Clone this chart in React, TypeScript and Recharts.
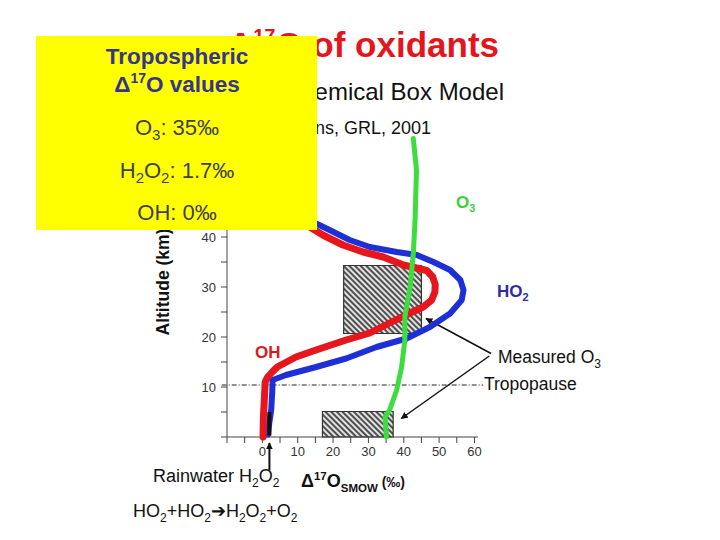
import { ScatterChart, Scatter, XAxis, YAxis, ReferenceArea, ReferenceLine } from 'recharts'

// altitude (km) and Δ17O (‰)
const ohAltitude = [0, 4, 8, 11, 12, 13, 14, 16, 17.4, 19.4, 20.8, 22.8, 24.8, 26, 27.4, 29, 30.5, 32, 33.3, 33.9, 34.4, 36, 37, 38.4, 40.4, 42, 44]
const ohDelta = [0.2, 0.3, 0.6, 0.8, 1.5, 2.8, 4.2, 9.5, 15.2, 23.7, 30.4, 36, 41.8, 45.5, 47.9, 48.8, 48.9, 48.2, 46.5, 43, 39.9, 34.2, 28.5, 22.8, 17.1, 13.4, 10]

const ho2Altitude = [0.5, 2, 5.4, 9, 11.4, 12.4, 14, 15.7, 18, 19.7, 22, 24.7, 27.4, 29.4, 31.4, 33.4, 35, 36.4, 37, 38, 39.4, 41.4, 42.7, 44]
const ho2Delta = [1.6, 1.8, 2.5, 2.8, 2.9, 6.7, 15.2, 23.7, 32.3, 40.8, 47.4, 53.1, 56.4, 56.9, 56, 53.1, 48.4, 43.7, 38, 30.4, 24.7, 19, 15.2, 11]

const o3Altitude = [0, 4, 5.4, 9.4, 14, 19.4, 24, 30, 36.7, 43.4, 53.4, 59.7]
const o3Delta = [35.1, 34.7, 36, 38, 39.4, 40.3, 40.3, 41.8, 42.7, 43.2, 43.6, 42.7]

const rainAltitude = [0.3, 5]
const rainDelta = [2, 2]

// measured ozone ranges (hatched boxes)
const measuredO3 = [
  { v1: 23, v2: 45, a1: 20.7, a2: 34.3 },
  { v1: 17, v2: 37, a1: 0, a2: 5.1 },
]

const tropopauseAlt = 10.4
const xTicks = [-10, -5, 0, 5, 10, 15, 20, 25, 30, 35, 40, 45, 50, 55, 60]
const yTicks = [0, 5, 10, 15, 20, 25, 30, 35, 40, 45, 50, 55, 60]

// annotation arrows, in data units
const measuredArrows = [
  { from: { v: 64.7, alt: 16.7 }, to: { v: 46.3, alt: 23.7 } },
  { from: { v: 64.2, alt: 16.2 }, to: { v: 39.3, alt: 3.7 } },
]
const rainArrow = { from: { v: 2, alt: -6.6 }, to: { v: 2, alt: -1.2 } }

const toPoints = (alts: number[], vals: number[]) => alts.map((a, i) => ({ alt: a, v: vals[i] }))

const noDot = () => <g />

const font = '"Liberation Sans", Arial, sans-serif'

type Part = string | { sub: string } | { sup: string }

// text with sub/superscripts as tspans
function rich(parts: Part[], small: number, shift = 5) {
  let off = 0
  return parts.map((p, i) => {
    if (typeof p === 'string') {
      const dy = -off
      off = 0
      return <tspan key={i} dy={dy}>{p}</tspan>
    }
    const target = 'sub' in p ? shift : -shift * 1.6
    const dy = target - off
    off = target
    return (
      <tspan key={i} fontSize={small} dy={dy}>
        {'sub' in p ? p.sub : p.sup}
      </tspan>
    )
  })
}

export default function App() {
  const tick = { fontSize: 13, fill: '#333', fontFamily: font }

  return (
    <div style={{ position: 'absolute', left: 0, top: 0, width: 720, height: 540, background: '#fff', fontFamily: font }}>
      <ScatterChart width={720} height={540} margin={{ top: 137, right: 242, bottom: 73, left: 187 }}>
        <defs>
          <pattern id="hatch" patternUnits="userSpaceOnUse" width="4" height="4" patternTransform="rotate(45)">
            <rect width="4" height="4" fill="#e2e2e2" />
            <line x1="0" y1="1" x2="4" y2="1" stroke="#2a2a2a" strokeWidth="1.6" />
          </pattern>
          <marker id="arrowHead" viewBox="0 0 10 10" refX="9" refY="5" markerWidth="7" markerHeight="7" orient="auto" markerUnits="userSpaceOnUse">
            <path d="M0,0 L10,5 L0,10 z" fill="#111" />
          </marker>
        </defs>
        <XAxis
          type="number"
          dataKey="v"
          domain={[-10, 61]}
          ticks={xTicks}
          interval={0}
          tickFormatter={(v: number) => (v >= 0 && v % 10 === 0 ? String(v) : '')}
          tick={tick}
          tickSize={6}
          tickMargin={4}
          stroke="#444"
          height={30}
        />
        <YAxis
          type="number"
          dataKey="alt"
          domain={[0, 60]}
          ticks={yTicks}
          interval={0}
          tickFormatter={(v: number) => (v > 0 && v % 10 === 0 ? String(v) : '')}
          tick={tick}
          tickSize={6}
          tickMargin={5}
          stroke="#444"
          width={40}
        />
        {measuredO3.map((b, i) => (
          <ReferenceArea
            key={i}
            x1={b.v1}
            x2={b.v2}
            y1={b.a1}
            y2={b.a2}
            fill="url(#hatch)"
            fillOpacity={1}
            stroke="#333"
            strokeWidth={1.2}
            ifOverflow="visible"
          />
        ))}
        <ReferenceLine
          segment={[{ x: -11.5, y: tropopauseAlt }, { x: 62.5, y: tropopauseAlt }]}
          stroke="#222"
          strokeDasharray="5 2 1 2"
          ifOverflow="visible"
        />
        <Scatter data={toPoints(ho2Altitude, ho2Delta)} line={{ stroke: '#1f2fd6', strokeWidth: 6, strokeLinejoin: 'round', strokeLinecap: 'round' }} lineType="joint" shape={noDot} isAnimationActive={false} />
        <Scatter data={toPoints(rainAltitude, rainDelta)} line={{ stroke: '#111', strokeWidth: 4 }} lineType="joint" shape={noDot} isAnimationActive={false} />
        <Scatter data={toPoints(ohAltitude, ohDelta)} line={{ stroke: '#e5161c', strokeWidth: 7, strokeLinejoin: 'round', strokeLinecap: 'round' }} lineType="joint" shape={noDot} isAnimationActive={false} />
        <Scatter data={toPoints(o3Altitude, o3Delta)} line={{ stroke: '#3ddd3d', strokeWidth: 5, strokeLinejoin: 'round', strokeLinecap: 'round' }} lineType="joint" shape={noDot} isAnimationActive={false} />
        {measuredArrows.map((a, i) => (
          <ReferenceLine
            key={i}
            segment={[{ x: a.from.v, y: a.from.alt }, { x: a.to.v, y: a.to.alt }]}
            stroke="#111"
            strokeWidth={1.5}
            markerEnd="url(#arrowHead)"
            ifOverflow="visible"
          />
        ))}
        <ReferenceLine
          segment={[{ x: rainArrow.from.v, y: rainArrow.from.alt }, { x: rainArrow.to.v, y: rainArrow.to.alt }]}
          stroke="#111"
          strokeWidth={2}
          markerEnd="url(#arrowHead)"
          ifOverflow="visible"
        />
      </ScatterChart>

      <svg width={720} height={540} style={{ position: 'absolute', left: 0, top: 0, pointerEvents: 'none' }} fontFamily={font}>
        <text transform="translate(169,282) rotate(-90)" textAnchor="middle" fontSize={17.5} fontWeight="bold" fill="#111">
          Altitude (km)
        </text>
        <text x={228} y={57} fontSize={35} fontWeight="bold" fill="#e3161d">
          {rich(['Δ', { sup: '17' }, 'O of oxidants'], 20, 9)}
        </text>
        <text x={504} y={100} textAnchor="end" fontSize={24} fill="#111">
          Photochemical Box Model
        </text>
        <text x={431} y={134} textAnchor="end" fontSize={18} fill="#111">
          Lyons, GRL, 2001
        </text>

        <rect x={36} y={36} width={281} height={194} fill="#ffff00" />
        <text x={177} y={64} textAnchor="middle" fontSize={22.5} fontWeight="bold" fill="#353590">
          Tropospheric
        </text>
        <text x={177} y={92} textAnchor="middle" fontSize={22.5} fontWeight="bold" fill="#353590">
          {rich(['Δ', { sup: '17' }, 'O values'], 14, 5.5)}
        </text>
        <text x={177} y={135} textAnchor="middle" fontSize={22} fill="#3f3f55">
          {rich(['O', { sub: '3' }, ': 35‰'], 15)}
        </text>
        <text x={177} y={178} textAnchor="middle" fontSize={22} fill="#3f3f55">
          {rich(['H', { sub: '2' }, 'O', { sub: '2' }, ': 1.7‰'], 15)}
        </text>
        <text x={177} y={220} textAnchor="middle" fontSize={22} fill="#3f3f55">
          OH: 0‰
        </text>

        <text x={255} y={358} fontSize={17} fontWeight="bold" fill="#d41c1c">OH</text>
        <text x={497} y={297} fontSize={17} fontWeight="bold" fill="#2d2d9c">
          {rich(['HO', { sub: '2' }], 11, 4)}
        </text>
        <text x={456} y={208} fontSize={17} fontWeight="bold" fill="#3ccc3c">
          {rich(['O', { sub: '3' }], 11, 4)}
        </text>
        <text x={498} y={363} fontSize={17.5} fill="#111">
          {rich(['Measured O', { sub: '3' }], 12)}
        </text>
        <text x={484} y={390} fontSize={17.5} fill="#111">Tropopause</text>
        <text x={153} y={482} fontSize={18} fill="#111">
          {rich(['Rainwater H', { sub: '2' }, 'O', { sub: '2' }], 12)}
        </text>
        <text x={301} y={487} fontSize={18} fontWeight="bold" fill="#111">
          {rich(['Δ', { sup: '17' }, 'O', { sub: 'SMOW' }], 11.5, 4.5)}
          <tspan fontSize={14} dy={-5}> (‰)</tspan>
        </text>
        <text x={133} y={517} fontSize={18} fill="#111">
          {rich(['HO', { sub: '2' }, '+HO', { sub: '2' }, '➔H', { sub: '2' }, 'O', { sub: '2' }, '+O', { sub: '2' }], 12)}
        </text>
      </svg>
    </div>
  )
}
